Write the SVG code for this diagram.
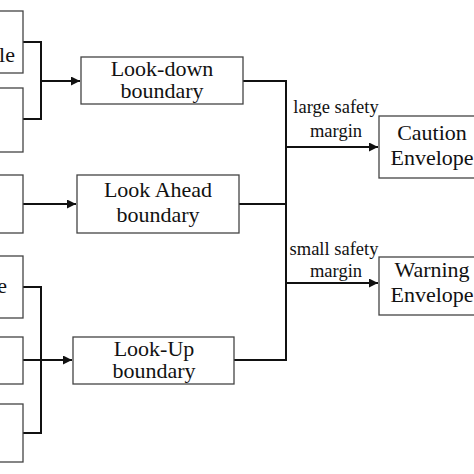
<svg xmlns="http://www.w3.org/2000/svg" width="474" height="474" viewBox="0 0 474 474">
<style>
.box{fill:#fff;stroke:#444;stroke-width:1.3}
.t{font-family:"Liberation Serif","Times New Roman",serif;font-size:22px;fill:#111;text-anchor:middle}
.l{font-family:"Liberation Serif","Times New Roman",serif;font-size:18.5px;fill:#111;text-anchor:middle}
.c{fill:none;stroke:#111;stroke-width:2}
</style>
<defs>
<marker id="ah" viewBox="0 0 10 10" refX="10" refY="5" markerWidth="11" markerHeight="9" markerUnits="userSpaceOnUse" orient="auto">
<path d="M0,0 L10,5 L0,10 Z" fill="#111"/>
</marker>
</defs>
<rect width="474" height="474" fill="#fff"/>
<g id="connectors">
<path class="c" d="M23,42 H41 V119 H23"/>
<path class="c" d="M41,81 H80" marker-end="url(#ah)"/>
<path class="c" d="M23,204 H76" marker-end="url(#ah)"/>
<path class="c" d="M23,287 H41 V433 H23"/>
<path class="c" d="M23,360 H72" marker-end="url(#ah)"/>
<path class="c" d="M243,81 H286 V360 H234"/>
<path class="c" d="M239,204 H286"/>
<path class="c" d="M286,147 H378" marker-end="url(#ah)"/>
<path class="c" d="M286,283 H378" marker-end="url(#ah)"/>
</g>
<g id="in1"><rect class="box" x="-60" y="11" width="83" height="62"/><text class="t" x="15" y="62" style="text-anchor:end">le</text></g>
<g id="in2"><rect class="box" x="-60" y="88" width="83" height="64"/></g>
<g id="in3"><rect class="box" x="-60" y="175" width="83" height="58"/></g>
<g id="in4"><rect class="box" x="-60" y="256" width="83" height="62"/><text class="t" x="7" y="293" style="text-anchor:end">e</text></g>
<g id="in5"><rect class="box" x="-60" y="337" width="83" height="47"/></g>
<g id="in6"><rect class="box" x="-60" y="404" width="83" height="58"/></g>
<g id="lookdown"><rect class="box" x="81" y="57" width="162" height="47"/><text class="t" x="162" y="76">Look-down</text><text class="t" x="162" y="98">boundary</text></g>
<g id="lookahead"><rect class="box" x="77" y="175" width="162" height="58"/><text class="t" x="158" y="197">Look Ahead</text><text class="t" x="158" y="222">boundary</text></g>
<g id="lookup"><rect class="box" x="73" y="337" width="161" height="47"/><text class="t" x="154" y="356">Look-Up</text><text class="t" x="154" y="378">boundary</text></g>
<g id="caution"><rect class="box" x="379" y="116" width="110" height="62"/><text class="t" x="432" y="140">Caution</text><text class="t" x="432" y="165">Envelope</text></g>
<g id="warning"><rect class="box" x="379" y="257" width="110" height="58"/><text class="t" x="432" y="277">Warning</text><text class="t" x="432" y="302">Envelope</text></g>
<g id="labels">
<text class="l" x="336" y="113">large safety</text><text class="l" x="336" y="137">margin</text>
<text class="l" x="334" y="255">small safety</text><text class="l" x="336" y="277">margin</text>
</g>
</svg>
